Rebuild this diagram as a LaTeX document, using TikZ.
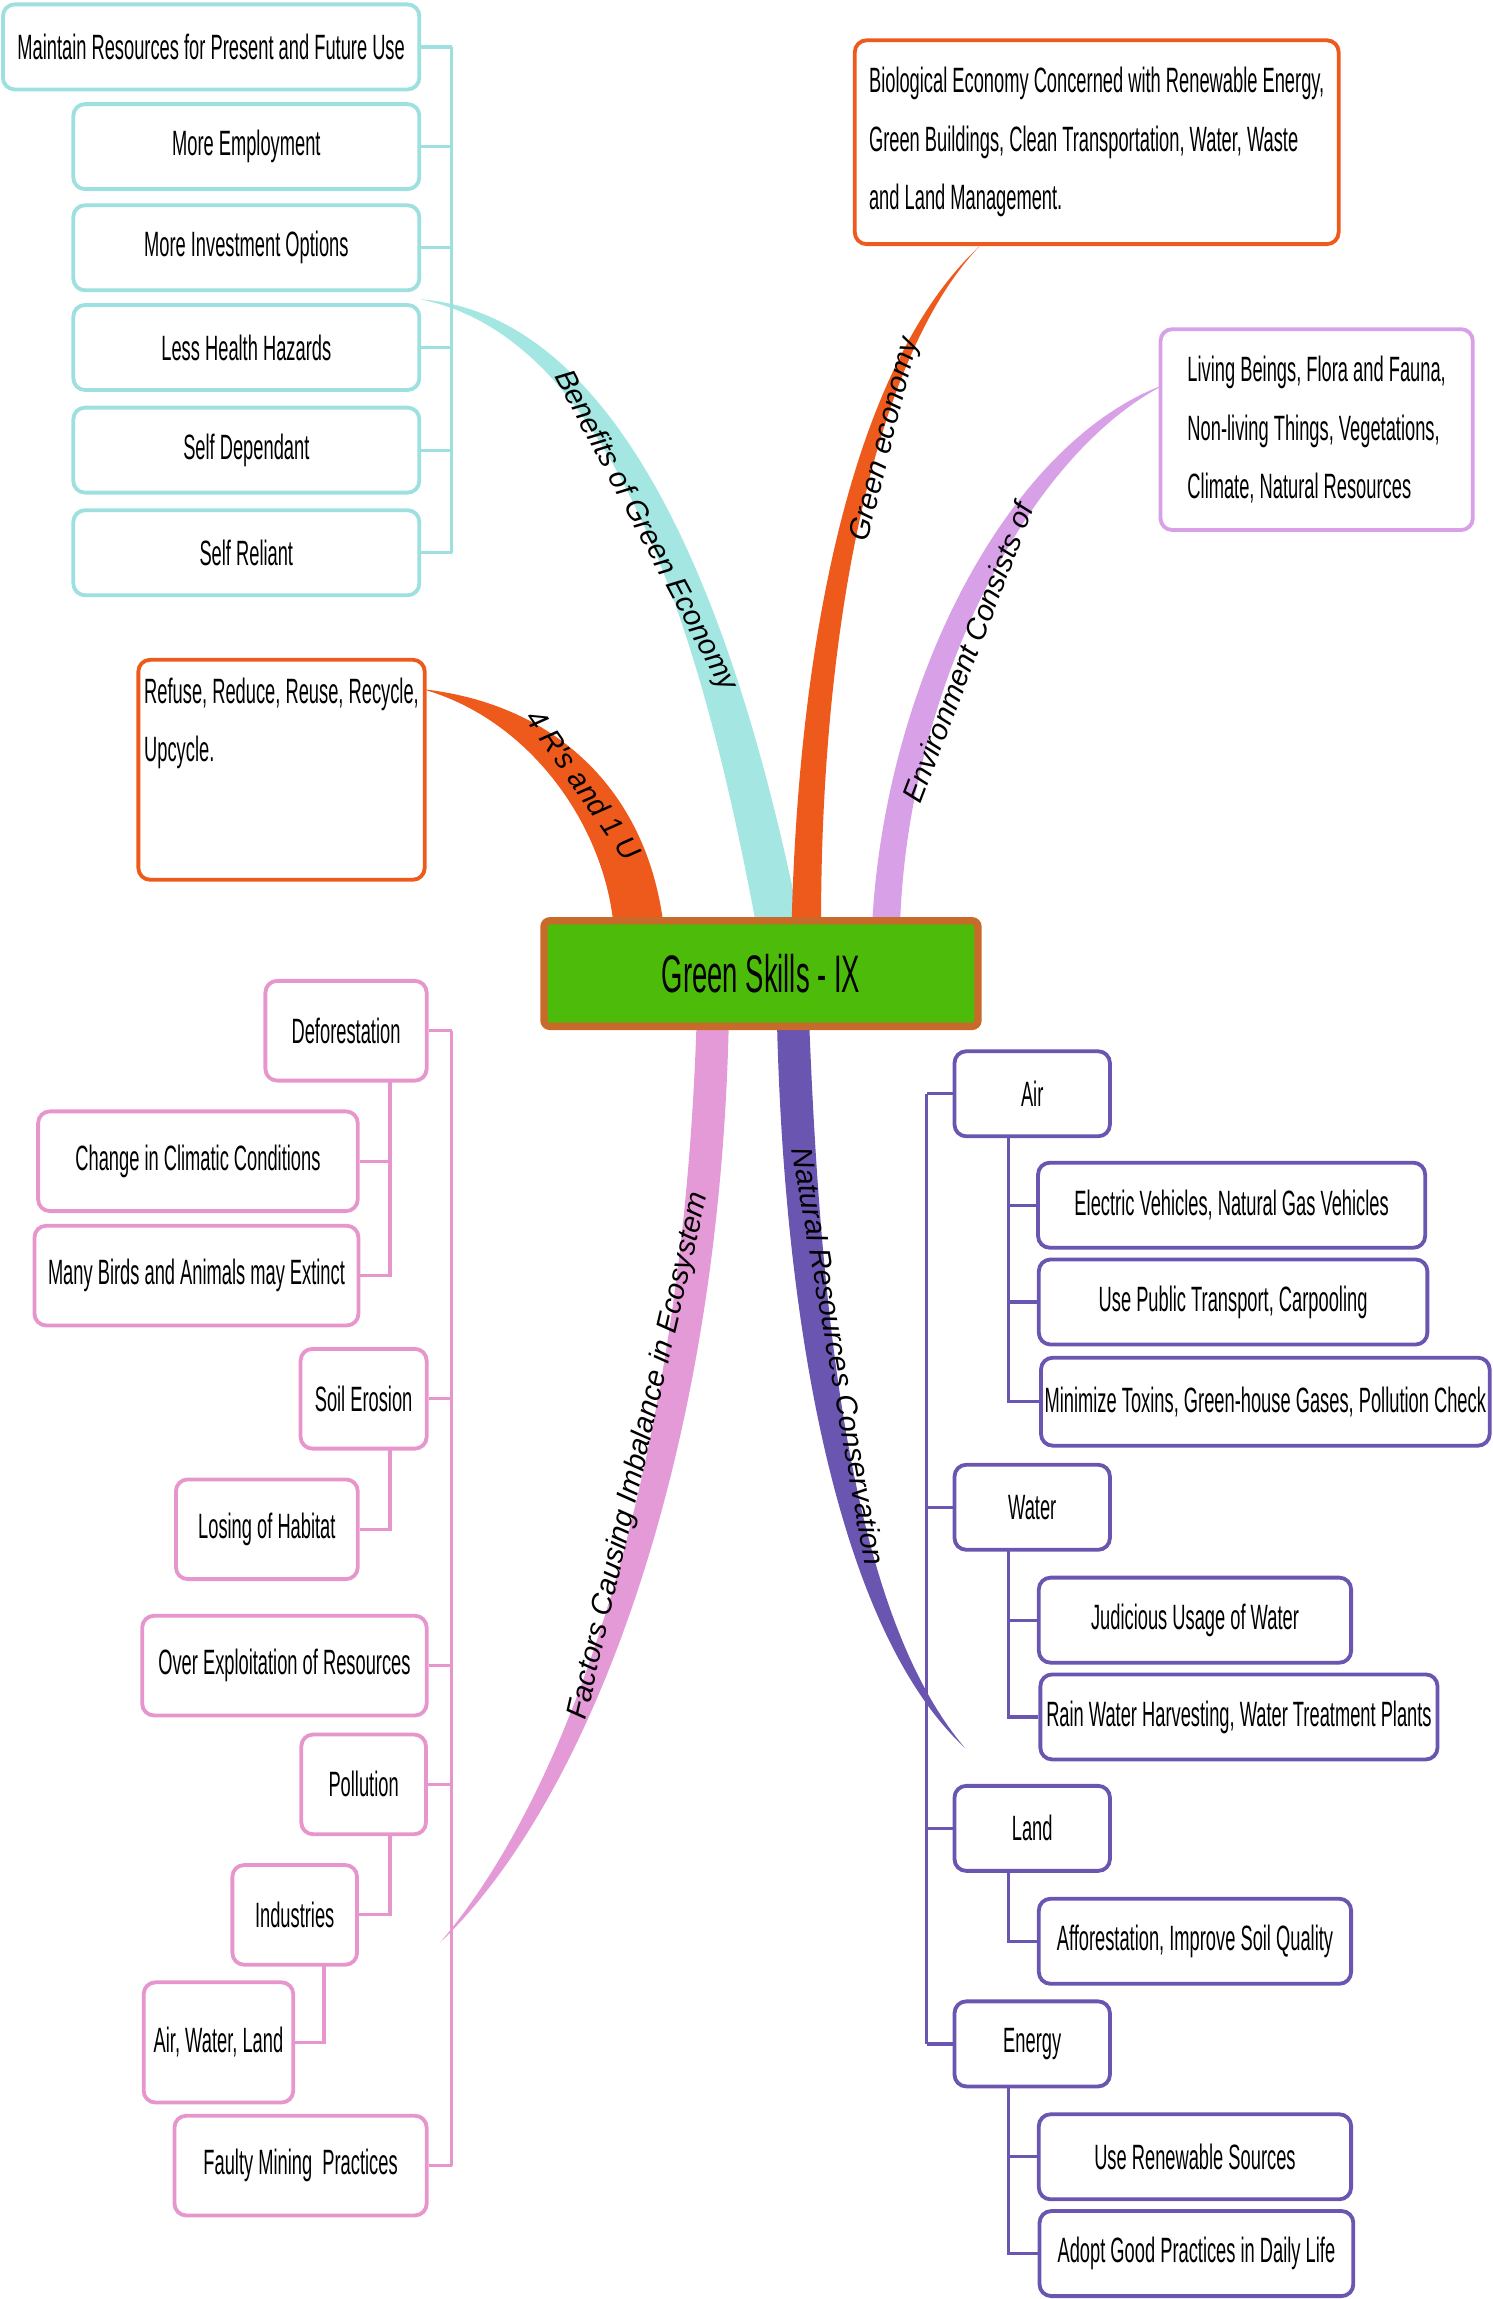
\documentclass[tikz,border=0pt]{standalone}
\usepackage{fontspec}
\setmainfont{Liberation Sans}[FakeStretch=0.52]
\newfontfamily\lblfont{Liberation Sans}
\usepackage{xcolor}
\definecolor{cyanline}{HTML}{9EE0E0}
\definecolor{cyanband}{HTML}{A3E6E2}
\definecolor{orangeline}{HTML}{EE5A1C}
\definecolor{envline}{HTML}{D8A0E6}
\definecolor{pinkline}{HTML}{E696CC}
\definecolor{pinkband}{HTML}{E39AD6}
\definecolor{violetline}{HTML}{6A55B0}
\definecolor{greenfill}{HTML}{4CBB0A}
\definecolor{centerborder}{HTML}{C86A2A}
\tikzset{
  box/.style={draw, rounded corners=4pt, line width=1.3pt, fill=white, inner sep=2pt,
    align=center, minimum height=29pt, font=\fontsize{12}{20}\selectfont},
  w/.style={minimum width=#1*0.5pt},
  h/.style={minimum height=#1*0.5pt},
  cbox/.style={box, draw=cyanline},
  obox/.style={box, draw=orangeline},
  ebox/.style={box, draw=envline},
  pbox/.style={box, draw=pinkline},
  vbox/.style={box, draw=violetline},
  tick/.style={line width=1.1pt},
  blabel/.style={font=\lblfont\fontsize{10}{12}\selectfont\itshape, inner sep=0pt}
}
\begin{document}
\begin{tikzpicture}[x=0.5pt, y=-0.5pt]
\useasboundingbox (0,0) rectangle (1018,1568);
% branches
\fill[cyanband] (286,204) .. controls (430,215) and (505,430) .. (545,627) -- (515,627) .. controls (480,440) and (420,230) .. (286,204);
\fill[orangeline] (668,168) .. controls (590,250) and (560,450) .. (560,627) -- (540,627) .. controls (545,440) and (580,250) .. (668,168);
\fill[envline] (795,262) .. controls (700,310) and (620,470) .. (614,627) -- (595,627) .. controls (605,460) and (690,300) .. (795,262);
\fill[orangeline] (288,470) .. controls (380,480) and (440,540) .. (452,627) -- (418,627) .. controls (410,560) and (360,490) .. (288,470);
\fill[pinkband] (497,700) .. controls (490,1000) and (400,1230) .. (300,1325) .. controls (390,1220) and (465,1000) .. (475,700);
\fill[violetline] (552,700) .. controls (560,900) and (580,1100) .. (658,1192) .. controls (570,1110) and (535,900) .. (530,700);
% branch labels
\node[blabel, rotate=-62] (lbenefit) at (440,362) {Benefits of Green Economy};
\node[blabel, rotate=76] (lgreen) at (604,300) {Green economy};
\node[blabel, rotate=69] (lenv) at (660,445) {Environment Consists of};
\node[blabel, rotate=-55] (lfour) at (398,535) {4 R's and 1 U};
\node[blabel, rotate=77] (lfactor) at (436,993) {Factors Causing Imbalance in Ecosystem};
\node[blabel, rotate=-80] (lnatural) at (572,925) {Natural Resources Conservation};
% center
\node[draw=centerborder, fill=greenfill, line width=2.5pt, rounded corners=2pt,
  minimum width=296*0.5pt, minimum height=72*0.5pt, font=\fontsize{18}{20}\selectfont] (center) at (519,664) {Green Skills - IX};
% benefits
\node[cbox, w=284] (m1) at (144,32) {Maintain Resources for Present and Future Use};
\node[cbox, w=236] (m2) at (168,100) {More Employment};
\node[cbox, w=236] (m3) at (168,169) {More Investment Options};
\node[cbox, w=236] (m4) at (168,237) {Less Health Hazards};
\node[cbox, w=236] (m5) at (168,307) {Self Dependant};
\node[cbox, w=236] (m6) at (168,377) {Self Reliant};
\coordinate (cyt) at (308,32);
\coordinate (cyb) at (308,377);
\draw[cyanline, tick] (cyt) -- (cyb);
\foreach \n in {m1,m2,m3,m4,m5,m6}
  \draw[cyanline, tick] (\n.east) -- (\n.east -| cyt);
% text boxes
\node[obox, w=330, h=139, align=left] (g1) at (748,97)
  {Biological Economy Concerned with Renewable Energy,\\Green Buildings, Clean Transportation, Water, Waste\\and Land Management.};
\node[ebox, w=213, h=137, align=left] (e1) at (898,293)
  {Living Beings, Flora and Fauna,\\Non-living Things, Vegetations,\\Climate, Natural Resources};
\node[obox, w=195, h=150, align=left] (r1) at (192,525)
  {Refuse, Reduce, Reuse, Recycle,\\Upcycle.\\[14pt]};
% factors
\node[pbox, w=110, h=68] (f1) at (236,703) {Deforestation};
\node[pbox, w=218, h=68] (f2) at (135,792) {Change in Climatic Conditions};
\node[pbox, w=221, h=68] (f3) at (134,870) {Many Birds and Animals may Extinct};
\node[pbox, w=86, h=68] (f4) at (248,954) {Soil Erosion};
\node[pbox, w=124, h=68] (f5) at (182,1043) {Losing of Habitat};
\node[pbox, w=194, h=68] (f6) at (194,1136) {Over Exploitation of Resources};
\node[pbox, w=85, h=68] (f7) at (248,1217) {Pollution};
\node[pbox, w=85, h=68] (f8) at (201,1306) {Industries};
\node[pbox, w=102, h=82] (f9) at (149,1393) {Air, Water, Land};
\node[pbox, w=172, h=68] (f10) at (205,1477) {Faulty Mining~ Practices};
\coordinate (pkt) at (308,703);
\coordinate (pkb) at (308,1477);
\draw[pinkline, tick] (pkt) -- (pkb);
\foreach \n in {f1,f4,f6,f7,f10}
  \draw[pinkline, tick] (\n.east) -- (\n.east -| pkt);
\coordinate (s1) at (266,738);
\coordinate (s2) at (266,988);
\coordinate (s3) at (266,1251);
\coordinate (s4) at (221,1340);
\draw[pinkline, tick] (s1) |- (f3.east);
\draw[pinkline, tick] (f2.east) -- (f2.east -| s1);
\draw[pinkline, tick] (s2) |- (f5.east);
\draw[pinkline, tick] (s3) |- (f8.east);
\draw[pinkline, tick] (s4) |- (f9.east);
% conservation
\node[vbox, w=106] (n1) at (704,746) {Air};
\node[vbox, w=264] (n2) at (840,822) {Electric Vehicles, Natural Gas Vehicles};
\node[vbox, w=265] (n3) at (841,888) {Use Public Transport, Carpooling};
\node[vbox, w=306, h=60, inner sep=1pt] (n4) at (863,956) {Minimize Toxins, Green-house Gases, Pollution Check};
\node[vbox, w=106] (n5) at (704,1028) {Water};
\node[vbox, w=213] (n6) at (815,1105) {Judicious Usage of Water};
\node[vbox, w=270] (n7) at (845,1171) {Rain Water Harvesting, Water Treatment Plants};
\node[vbox, w=106] (n8) at (704,1247) {Land};
\node[vbox, w=213] (n9) at (815,1324) {Afforestation, Improve Soil Quality};
\node[vbox, w=106] (n10) at (704,1394) {Energy};
\node[vbox, w=213] (n11) at (815,1471) {Use Renewable Sources};
\node[vbox, w=214] (n12) at (816,1537) {Adopt Good Practices in Daily Life};
\coordinate (vt) at (632,746);
\coordinate (vb) at (632,1394);
\draw[violetline, tick] (vt) -- (vb);
\foreach \n in {n1,n5,n8,n10}
  \draw[violetline, tick] (\n.west) -- (\n.west -| vt);
\coordinate (a1) at (688,775);
\coordinate (a2) at (688,1057);
\coordinate (a3) at (688,1276);
\coordinate (a4) at (688,1423);
\draw[violetline, tick] (a1) |- (n4.west);
\foreach \n in {n2,n3} \draw[violetline, tick] (\n.west) -- (\n.west -| a1);
\draw[violetline, tick] (a2) |- (n7.west);
\draw[violetline, tick] (n6.west) -- (n6.west -| a2);
\draw[violetline, tick] (a3) |- (n9.west);
\draw[violetline, tick] (a4) |- (n12.west);
\draw[violetline, tick] (n11.west) -- (n11.west -| a4);
\end{tikzpicture}
\end{document}
